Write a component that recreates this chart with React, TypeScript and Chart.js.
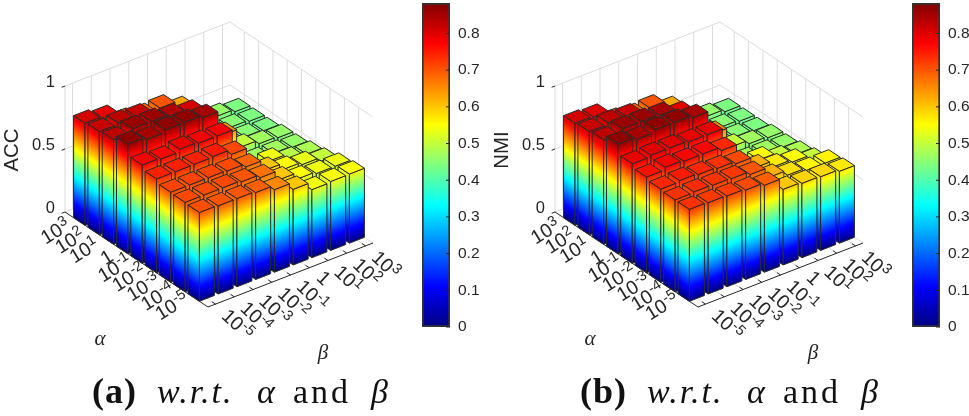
import React, { useEffect, useRef } from "react";
import { Chart, registerables } from "chart.js";

Chart.register(...registerables);

const ALPHA_LABELS = ["10^3", "10^2", "10^1", "1", "10^-1", "10^-2", "10^-3", "10^-4", "10^-5"];
const BETA_LABELS = ["10^-5", "10^-4", "10^-3", "10^-2", "10^-1", "1", "10^1", "10^2", "10^3"];
const Z_TICKS = [0, 0.5, 1];
const COLOR_MAX = 0.883;

// one row per alpha (10^3 ... 10^-5), one value per beta (10^-5 ... 10^3)
const accAlpha1 = [0.81, 0.79, 0.71, 0.69, 0.7, 0.63, 0.44, 0.46, 0.44];
const accAlpha2 = [0.82, 0.83, 0.82, 0.69, 0.66, 0.5, 0.44, 0.45, 0.44];
const accAlpha3 = [0.83, 0.86, 0.86, 0.84, 0.81, 0.6, 0.46, 0.45, 0.44];
const accAlpha4 = [0.87, 0.85, 0.87, 0.87, 0.85, 0.65, 0.5, 0.47, 0.46];
const accAlpha5 = [0.78, 0.77, 0.79, 0.78, 0.78, 0.5, 0.47, 0.47, 0.46];
const accAlpha6 = [0.745, 0.745, 0.745, 0.75, 0.71, 0.52, 0.54, 0.49, 0.48];
const accAlpha7 = [0.715, 0.715, 0.715, 0.71, 0.685, 0.6, 0.55, 0.53, 0.5];
const accAlpha8 = [0.71, 0.71, 0.71, 0.7, 0.675, 0.6, 0.55, 0.535, 0.535];
const accAlpha9 = [0.705, 0.7, 0.7, 0.69, 0.655, 0.6, 0.54, 0.547, 0.548];

const nmiAlpha1 = [0.81, 0.8, 0.71, 0.69, 0.7, 0.63, 0.45, 0.46, 0.44];
const nmiAlpha2 = [0.82, 0.83, 0.82, 0.7, 0.66, 0.5, 0.44, 0.45, 0.44];
const nmiAlpha3 = [0.83, 0.86, 0.86, 0.85, 0.8, 0.6, 0.46, 0.45, 0.44];
const nmiAlpha4 = [0.87, 0.85, 0.87, 0.87, 0.85, 0.66, 0.5, 0.47, 0.46];
const nmiAlpha5 = [0.79, 0.8, 0.8, 0.79, 0.79, 0.5, 0.47, 0.47, 0.46];
const nmiAlpha6 = [0.76, 0.78, 0.77, 0.77, 0.74, 0.53, 0.55, 0.5, 0.48];
const nmiAlpha7 = [0.74, 0.75, 0.74, 0.73, 0.71, 0.62, 0.57, 0.55, 0.5];
const nmiAlpha8 = [0.73, 0.735, 0.73, 0.725, 0.7, 0.62, 0.58, 0.56, 0.56];
const nmiAlpha9 = [0.73, 0.725, 0.72, 0.71, 0.69, 0.6, 0.59, 0.585, 0.57];

const accRows = [accAlpha1, accAlpha2, accAlpha3, accAlpha4, accAlpha5, accAlpha6, accAlpha7, accAlpha8, accAlpha9];
const nmiRows = [nmiAlpha1, nmiAlpha2, nmiAlpha3, nmiAlpha4, nmiAlpha5, nmiAlpha6, nmiAlpha7, nmiAlpha8, nmiAlpha9];

const SANS = '"Liberation Sans", Arial, sans-serif';
const SERIF = '"Liberation Serif", "DejaVu Serif", serif';
const INK = "#262626";
const EDGE = "#2a2a2a";
const GRID = "#dcdcdc";

const JET: [number, number, number, number][] = [
  [0, 0, 0, 128],
  [0.125, 0, 0, 255],
  [0.375, 0, 255, 255],
  [0.625, 255, 255, 0],
  [0.875, 255, 0, 0],
  [1, 128, 0, 0],
];

function jet(t: number) {
  const v = Math.max(0, Math.min(1, t));
  for (let i = 1; i < JET.length; i++) {
    if (v <= JET[i][0]) {
      const [t0, r0, g0, b0] = JET[i - 1];
      const [t1, r1, g1, b1] = JET[i];
      const k = (v - t0) / (t1 - t0);
      return `rgb(${Math.round(r0 + (r1 - r0) * k)},${Math.round(g0 + (g1 - g0) * k)},${Math.round(b0 + (b1 - b0) * k)})`;
    }
  }
  return "rgb(128,0,0)";
}

// isometric-like view of the 3D box, in the units of the chart's x and y scales
const BETA_MIN = 0.6;
const BETA_MAX = 9.4;
const ALPHA_MAX = 10;
function project(a: number, b: number, z: number) {
  return {
    x: 65 + a * 14.3 + (b - BETA_MIN) * 18.75,
    y: 212 + a * 9.5 - (b - BETA_MIN) * 7.27 - z * 126,
  };
}

function drawPower(ctx: CanvasRenderingContext2D, label: string, x: number, y: number, angle: number, raise: number) {
  const [base, exp] = label.split("^");
  ctx.save();
  ctx.translate(x, y);
  ctx.rotate(angle);
  ctx.fillStyle = INK;
  ctx.textBaseline = "middle";
  ctx.textAlign = "center";
  ctx.font = `19.5px ${SANS}`;
  ctx.fillText(base, 0, 0);
  if (exp) {
    const w = ctx.measureText(base).width;
    ctx.font = `14.5px ${SANS}`;
    ctx.textAlign = "left";
    ctx.fillText(exp, w / 2 + 0.5, -raise);
  }
  ctx.restore();
}

type PanelCfg = {
  rows: number[][];
  yLabel: string;
  tag: string;
  width: number;
};

const cubePlugin = {
  id: "cube",
  beforeDatasetsDraw(chart: any, _args: any, opts: any) {
    const { ctx } = chart;
    const sx = chart.scales.x;
    const sy = chart.scales.y;
    const P = (a: number, b: number, z: number) => {
      const p = project(a, b, z);
      return { x: sx.getPixelForValue(p.x), y: sy.getPixelForValue(p.y) };
    };
    const line = (p: any, q: any) => {
      ctx.beginPath();
      ctx.moveTo(p.x, p.y);
      ctx.lineTo(q.x, q.y);
      ctx.stroke();
    };

    ctx.save();
    // walls and floor grid
    ctx.strokeStyle = GRID;
    ctx.lineWidth = 1;
    for (const z of Z_TICKS) {
      line(P(0, BETA_MIN, z), P(0, BETA_MAX, z));
      line(P(0, BETA_MAX, z), P(ALPHA_MAX, BETA_MAX, z));
    }
    line(P(0, BETA_MIN, 0), P(0, BETA_MIN, 1));
    for (let i = 1; i <= 9; i++) {
      line(P(0, i, 0), P(0, i, 1));
      line(P(i, BETA_MAX, 0), P(i, BETA_MAX, 1));
      line(P(0, i, 0), P(ALPHA_MAX, i, 0));
      line(P(i, BETA_MIN, 0), P(i, BETA_MAX, 0));
    }

    // axes and ticks
    ctx.strokeStyle = INK;
    line(P(0, BETA_MIN, 0), P(ALPHA_MAX, BETA_MIN, 0));
    line(P(ALPHA_MAX, BETA_MIN, 0), P(ALPHA_MAX, BETA_MAX, 0));
    for (let i = 1; i <= 9; i++) {
      line(P(i, BETA_MIN, 0), P(i, BETA_MIN + 0.2, 0));
      line(P(ALPHA_MAX, i, 0), P(ALPHA_MAX - 0.25, i, 0));
    }
    for (const z of Z_TICKS) line(P(0, BETA_MIN, z), P(0, BETA_MIN - 0.18, z));

    // bars, from the far corner to the near one
    ctx.lineJoin = "round";
    const meta = chart.data.datasets;
    meta.forEach((ds: any) => {
      const pts = [...ds.data].reverse();
      pts.forEach((pt: any) => {
        const { a, b, v } = pt;
        const w = 0.4;
        const poly = (c: any[]) => {
          ctx.beginPath();
          c.forEach((p, i) => (i ? ctx.lineTo(p.x, p.y) : ctx.moveTo(p.x, p.y)));
          ctx.closePath();
        };
        const grad = (p0: any, p1: any) => {
          const dx = p1.x - p0.x;
          const dy = p1.y - p0.y;
          const nx = -dy;
          const ny = dx;
          const vy = sy.getPixelForValue(project(0, 0, COLOR_MAX).y) - sy.getPixelForValue(project(0, 0, 0).y);
          const t = (vy * ny) / (nx * nx + ny * ny);
          const g = ctx.createLinearGradient(p0.x, p0.y, p0.x + nx * t, p0.y + ny * t);
          JET.forEach(([s, r, gg, bb]) => g.addColorStop(s, `rgb(${r},${gg},${bb})`));
          return g;
        };
        const lb = P(a - w, b - w, 0);
        const fb = P(a + w, b - w, 0);
        const rb = P(a + w, b + w, 0);
        const lt = P(a - w, b - w, v);
        const ft = P(a + w, b - w, v);
        const rt = P(a + w, b + w, v);
        const bt = P(a - w, b + w, v);
        ctx.strokeStyle = EDGE;
        ctx.lineWidth = 1;
        ctx.fillStyle = grad(lb, fb);
        poly([lb, fb, ft, lt]);
        ctx.fill();
        ctx.stroke();
        ctx.fillStyle = grad(fb, rb);
        poly([fb, rb, rt, ft]);
        ctx.fill();
        ctx.stroke();
        ctx.fillStyle = jet(v / COLOR_MAX);
        poly([lt, ft, rt, bt]);
        ctx.fill();
        ctx.stroke();
      });
    });

    // z tick labels
    ctx.fillStyle = INK;
    ctx.font = `16.5px ${SANS}`;
    ctx.textAlign = "right";
    ctx.textBaseline = "middle";
    for (const z of Z_TICKS) {
      const p = P(0, BETA_MIN, z);
      ctx.fillText(String(z), p.x - 10, p.y - 4);
    }

    // axis title
    ctx.save();
    ctx.translate(sx.getPixelForValue(opts.yLabelX), sy.getPixelForValue(150));
    ctx.rotate(-Math.PI / 2);
    ctx.textAlign = "center";
    ctx.font = `20.4px ${SANS}`;
    ctx.fillText(opts.yLabel, 0, 0);
    ctx.restore();

    // alpha / beta tick labels
    ALPHA_LABELS.forEach((lab, i) => {
      const p = P(i + 1, BETA_MIN, 0);
      if (lab.includes("^")) drawPower(ctx, lab, p.x - 27, p.y + 13, -0.55, 5.5);
      else drawPower(ctx, lab, p.x - 15, p.y + 8, -0.55, 5.5);
    });
    BETA_LABELS.forEach((lab, i) => {
      const p = P(ALPHA_MAX, i + 1, 0);
      if (lab.includes("^")) drawPower(ctx, lab, p.x + 16.5, p.y + 16.5, 0.75, 5);
      else drawPower(ctx, lab, p.x + 14, p.y + 11, 0.75, 5);
    });

    // alpha and beta names
    ctx.fillStyle = INK;
    ctx.textAlign = "center";
    ctx.font = `italic 21px ${SERIF}`;
    ctx.fillText("\u03b1", sx.getPixelForValue(100), sy.getPixelForValue(339));
    ctx.fillText("\u03b2", sx.getPixelForValue(323), sy.getPixelForValue(353));

    // caption
    ctx.fillStyle = "#111";
    ctx.textAlign = "left";
    ctx.textBaseline = "alphabetic";
    const base = sy.getPixelForValue(403);
    ctx.font = `bold 36px ${SERIF}`;
    (ctx as any).letterSpacing = "1px";
    ctx.fillText(opts.tag, sx.getPixelForValue(opts.tagX), base);
    ctx.font = `italic 34px ${SERIF}`;
    (ctx as any).letterSpacing = "2px";
    ctx.fillText("w.r.t.", sx.getPixelForValue(157), base);
    (ctx as any).letterSpacing = "0px";
    ctx.fillText("\u03b1", sx.getPixelForValue(257), base);
    ctx.font = `34px ${SERIF}`;
    (ctx as any).letterSpacing = "3px";
    ctx.fillText("and", sx.getPixelForValue(293), base);
    (ctx as any).letterSpacing = "0px";
    ctx.font = `italic 34px ${SERIF}`;
    ctx.fillText("\u03b2", sx.getPixelForValue(371), base);
    ctx.restore();
  },
};

function Panel({ rows, yLabel, tag, width, left, tagX }: PanelCfg & { left: number; tagX: number }) {
  const ref = useRef<HTMLCanvasElement>(null);
  useEffect(() => {
    const chart = new Chart(ref.current as HTMLCanvasElement, {
      type: "scatter",
      data: {
        datasets: rows.map((row, r) => ({
          label: ALPHA_LABELS[r],
          pointRadius: 0,
          data: row.map((v, c) => ({ ...project(r + 1, c + 1, v), a: r + 1, b: c + 1, v })),
        })),
      },
      options: {
        responsive: false,
        animation: false,
        events: [],
        layout: { padding: 0 },
        scales: {
          x: { type: "linear", display: false, min: 0, max: width },
          y: { type: "linear", display: false, min: 0, max: 416, reverse: true },
        },
        plugins: {
          legend: { display: false },
          tooltip: { enabled: false },
          cube: { yLabel, tag, tagX, yLabelX: 12 },
        },
      } as any,
      plugins: [cubePlugin],
    } as any);
    return () => chart.destroy();
  }, []);
  return (
    <canvas
      ref={ref}
      width={width}
      height={416}
      style={{ position: "absolute", left, top: 0, width, height: 416 }}
    />
  );
}

const colorTicksPlugin = {
  id: "colorTicks",
  afterDraw(chart: any) {
    const { ctx, chartArea } = chart;
    const sy = chart.scales.y;
    ctx.save();
    ctx.strokeStyle = INK;
    ctx.lineWidth = 1;
    sy.ticks.forEach((t: any) => {
      const y = sy.getPixelForValue(t.value);
      ctx.beginPath();
      ctx.moveTo(chartArea.right - 4, y);
      ctx.lineTo(chartArea.right, y);
      ctx.stroke();
    });
    ctx.restore();
  },
};

function ColorBar({ left }: { left: number }) {
  const ref = useRef<HTMLCanvasElement>(null);
  useEffect(() => {
    const chart = new Chart(ref.current as HTMLCanvasElement, {
      type: "bar",
      data: {
        labels: [""],
        datasets: [
          {
            data: [[0, COLOR_MAX]],
            barPercentage: 1,
            categoryPercentage: 1,
            borderColor: "#333333",
            borderWidth: 2,
            borderSkipped: false,
            backgroundColor: (c: any) => {
              const { ctx, chartArea } = c.chart;
              if (!chartArea) return "#000";
              const g = ctx.createLinearGradient(0, chartArea.bottom, 0, chartArea.top);
              JET.forEach(([s, r, gg, bb]) => g.addColorStop(s, `rgb(${r},${gg},${bb})`));
              return g;
            },
          },
        ],
      },
      options: {
        responsive: false,
        animation: false,
        events: [],
        layout: { padding: { left: 12, top: 3, bottom: 14, right: 0 } },
        scales: {
          x: { display: false },
          y: {
            position: "right",
            min: 0,
            max: COLOR_MAX,
            border: { display: false },
            grid: { display: false },
            afterFit: (s: any) => {
              s.width = 40;
              s.paddingTop = 0;
              s.paddingBottom = 0;
            },
            ticks: {
              stepSize: 0.1,
              includeBounds: false,
              padding: 0,
              color: INK,
              font: { family: SANS, size: 15.5 },
              callback: (v: any) => String(Math.round(v * 10) / 10),
            },
          },
        },
        plugins: { legend: { display: false }, tooltip: { enabled: false } },
      } as any,
      plugins: [colorTicksPlugin],
    } as any);
    return () => chart.destroy();
  }, []);
  return (
    <canvas
      ref={ref}
      width={80}
      height={341}
      style={{ position: "absolute", left, top: 0, width: 80, height: 341 }}
    />
  );
}

export default function App() {
  return (
    <div style={{ position: "absolute", left: 0, top: 0, width: 969, height: 416, overflow: "hidden", background: "#fff" }}>
      <Panel rows={accRows} yLabel="ACC" tag="(a)" width={479} left={0} tagX={92} />
      <Panel rows={nmiRows} yLabel="NMI" tag="(b)" width={479} left={490} tagX={90} />
      <ColorBar left={410} />
      <ColorBar left={900} />
    </div>
  );
}
